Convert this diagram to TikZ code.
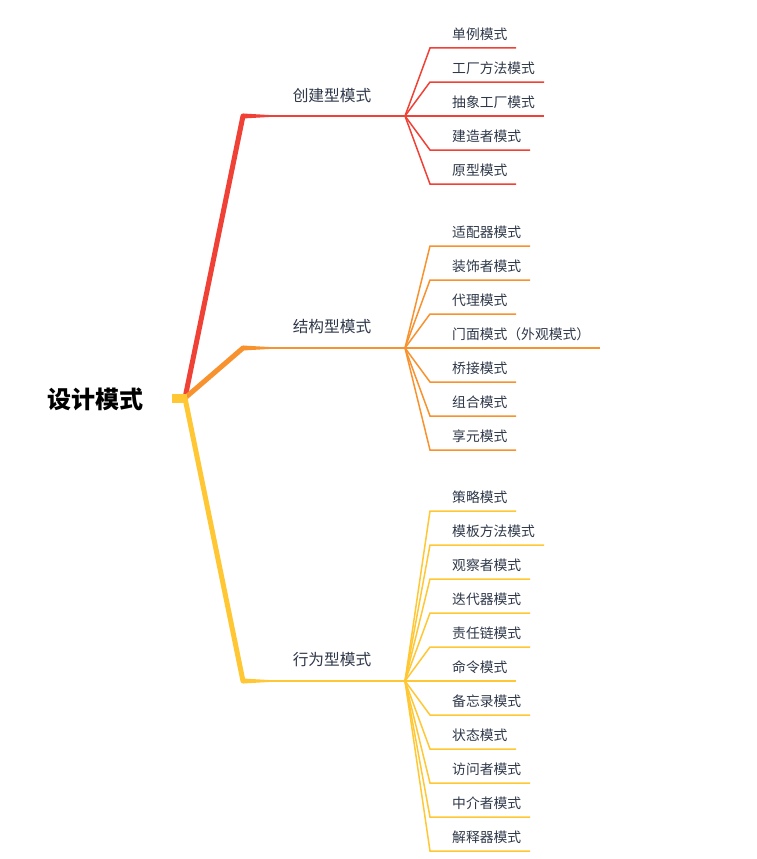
\documentclass[tikz,border=0pt]{standalone}
\usepackage{fontspec}
\newfontfamily\cjk{Noto Sans CJK SC}
\definecolor{cRed}{HTML}{EF4136}
\definecolor{cOrange}{HTML}{F7922E}
\definecolor{cYellow}{HTML}{FFC734}
\definecolor{cText}{HTML}{2E3849}
\tikzset{
  rootlbl/.style={font=\cjk\bfseries\fontsize{24}{27}\selectfont, text=black, inner sep=0pt},
  lbl/.style={font=\cjk\fontsize{15.7}{18}\selectfont, text=cText, inner sep=0pt},
  leaf/.style={font=\cjk\fontsize{13.8}{16}\selectfont, text=cText, inner sep=0pt, anchor=west},
  thin/.style={line width=1.5pt, line cap=butt, line join=miter},
  mainbr/.style={line width=5pt, line cap=round},
}
\begin{document}
\begin{tikzpicture}[x=1pt,y=-1pt]
\useasboundingbox (0,0) rectangle (756,859);
\node[rootlbl] (root) at (95,399) {设计模式};
\coordinate (rp) at (185,398);
% ---------- main branches ----------
\foreach \col/\Y/\nm in {cRed/116/A, cOrange/348/B, cYellow/681/C}{
  \coordinate (k\nm) at (243,\Y);
  \coordinate (t\nm) at (272,\Y);
  \coordinate (f\nm) at (405,\Y);
  \draw[\col, mainbr] (rp) -- (k\nm);
  \fill[\col] (243,\Y-2.5) -- (272,\Y-0.8) -- (272,\Y+0.8) -- (243,\Y+2.5) -- cycle;
  \draw[\col, thin] (t\nm) -- (f\nm);
}
\fill[cYellow] (172,394) rectangle (187,403);
\node[lbl] (lA) at (332,96) {创建型模式};
\node[lbl] (lB) at (332,327) {结构型模式};
\node[lbl] (lC) at (332,660) {行为型模式};
% ---------- red children ----------
\foreach \t/\y/\e [count=\i] in {单例模式/48/516, 工厂方法模式/82/544, 抽象工厂模式/116/544, 建造者模式/150/530, 原型模式/184/516}{
  \coordinate (as\i) at (430,\y);
  \coordinate (ae\i) at (\e,\y);
  \draw[cRed, thin] (fA) -- (as\i) -- (ae\i);
  \node[leaf] (a\i) at (452,\y-14) {\t};
}
% ---------- orange children ----------
\foreach \t/\y/\e [count=\i] in {适配器模式/246/530, 装饰者模式/280/530, 代理模式/314/516, 门面模式（外观模式）/348/600, 桥接模式/382/516, 组合模式/416/516, 享元模式/450/516}{
  \coordinate (bs\i) at (430,\y);
  \coordinate (be\i) at (\e,\y);
  \draw[cOrange, thin] (fB) -- (bs\i) -- (be\i);
  \node[leaf] (b\i) at (452,\y-14) {\t};
}
% ---------- yellow children ----------
\foreach \t/\y/\e [count=\i] in {策略模式/511/516, 模板方法模式/545/544, 观察者模式/579/530, 迭代器模式/613/530, 责任链模式/647/530, 命令模式/681/516, 备忘录模式/715/530, 状态模式/749/516, 访问者模式/783/530, 中介者模式/817/530, 解释器模式/851/530}{
  \coordinate (cs\i) at (430,\y);
  \coordinate (ce\i) at (\e,\y);
  \draw[cYellow, thin] (fC) -- (cs\i) -- (ce\i);
  \node[leaf] (c\i) at (452,\y-14) {\t};
}
\end{tikzpicture}
\end{document}
